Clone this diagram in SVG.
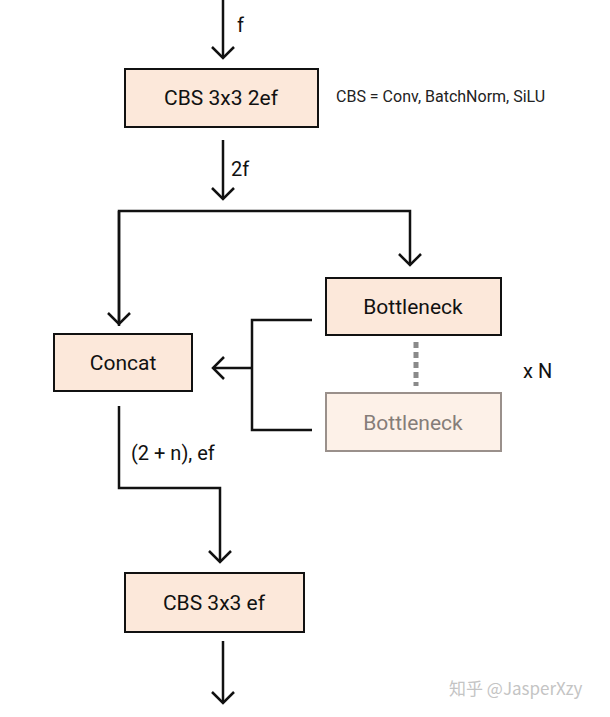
<svg xmlns="http://www.w3.org/2000/svg" width="610" height="717" viewBox="0 0 610 717">
<style>
.box{fill:#fce8da;stroke:#111;stroke-width:2}
.t{font-family:Roboto,"Liberation Sans",sans-serif;font-size:21px;fill:#111;text-anchor:middle}
.l{font-family:Roboto,"Liberation Sans",sans-serif;font-size:20px;fill:#111}
.c{fill:none;stroke:#111;stroke-width:2.5}
</style>
<defs>
<marker id="a" markerUnits="userSpaceOnUse" markerWidth="24" markerHeight="24" refX="12" refY="12" orient="auto">
<path d="M1,1 L12,12 L1,23" fill="none" stroke="#111" stroke-width="2.5"/>
</marker>
</defs>
<rect width="610" height="717" fill="#fff"/>
<g id="connectors">
<path class="c" d="M223,0 V58" marker-end="url(#a)"/>
<path class="c" d="M223,140 V199" marker-end="url(#a)"/>
<path class="c" d="M119,326 V211 H410 V265" marker-end="url(#a)"/>
<path class="c" d="M119,211 V324" marker-end="url(#a)"/>
<path class="c" d="M312,320 H252 V430 H312"/>
<path class="c" d="M252,368 H213" marker-end="url(#a)"/>
<path d="M416,342 V386" stroke="#8a8a8a" stroke-width="5" stroke-dasharray="6,4" fill="none"/>
<path class="c" d="M119,406 V488 H220 V562" marker-end="url(#a)"/>
<path class="c" d="M223,641 V703" marker-end="url(#a)"/>
</g>
<text class="l" x="237" y="32">f</text>
<text class="l" x="231" y="176">2f</text>
<text class="l" x="131" y="460">(2 + n), ef</text>
<g id="cbs1"><rect class="box" x="125" y="69" width="193" height="58"/><text class="t" x="221" y="105">CBS 3x3 2ef</text></g>
<text x="336" y="102" font-family="Roboto,'Liberation Sans',sans-serif" font-size="16" fill="#222">CBS = Conv, BatchNorm, SiLU</text>
<g id="bottleneck1"><rect class="box" x="326" y="278" width="175" height="57"/><text class="t" x="413" y="314">Bottleneck</text></g>
<g id="concat"><rect class="box" x="54" y="334" width="138" height="57"/><text class="t" x="123" y="370">Concat</text></g>
<g id="bottleneck2"><rect x="326" y="393" width="175" height="58" fill="#fdf1e8" stroke="#9a908b" stroke-width="2"/><text class="t" x="413" y="430" fill="#857d79" style="fill:#857d79">Bottleneck</text></g>
<text class="l" x="523" y="378">x N</text>
<g id="cbs2"><rect class="box" x="125" y="573" width="179" height="59"/><text class="t" x="214" y="610">CBS 3x3 ef</text></g>
<text x="449" y="695" font-family="'Noto Sans CJK SC',Roboto,sans-serif" font-size="17" fill="#c4c4c4">知乎 @JasperXzy</text>
</svg>
